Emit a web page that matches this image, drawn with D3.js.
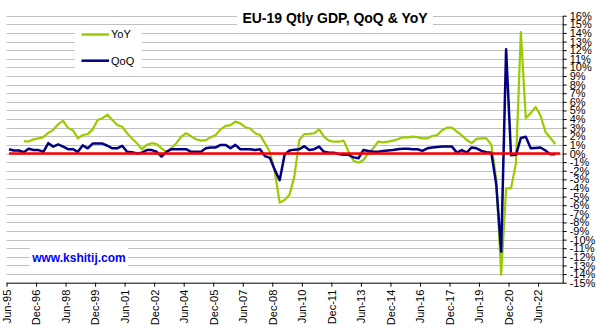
<!DOCTYPE html>
<html><head><meta charset="utf-8">
<script src="https://cdn.jsdelivr.net/npm/d3@7"></script>
<style>
html,body{margin:0;padding:0;background:#fff;}
svg{display:block;font-family:"Liberation Sans",Arial,sans-serif;}
</style></head>
<body><svg id="c" width="603" height="333"></svg>
<script>
// Quarter index 0 = Jun-95; categories run Jun-95 .. Jun-23
const nCategories = 113;
const tickIndex = [0,6,12,18,24,30,36,42,48,54,60,66,72,78,84,90,96,102,108];
const tickLabels = ["Jun-95","Dec-96","Jun-98","Dec-99","Jun-01","Dec-02","Jun-04","Dec-05","Jun-07","Dec-08",
  "Jun-10","Dec-11","Jun-13","Dec-14","Jun-16","Dec-17","Jun-19","Dec-20","Jun-22"];
const yTicks = d3.range(-15, 17);

// YoY starts at quarter index 3 (Mar-96)
const yoyStart = 3;
const yoy = [1.4,1.4,1.65,1.75,1.9,2.4,2.75,3.4,3.8,2.95,2.7,1.75,2.15,2.25,2.8,3.9,4.1,4.5,3.9,3.3,3.1,2.35,1.75,1.2,0.5,1.0,1.2,1.1,0.6,0.2,0.6,1.2,1.95,2.35,2.0,1.65,1.5,
  1.55,1.9,2.15,2.8,3.2,3.3,3.7,3.5,3.05,2.9,2.35,2.15,1.2,0.2,-2.1,-5.7,-5.4,-4.8,-2.6,1.6,2.25,2.27,2.35,2.8,1.95,1.5,1.37,1.37,1.5,0.2,-0.85,-1.07,-0.75,0.0,0.6,1.37,1.3,1.37,1.5,1.65,
  1.88,1.88,1.95,1.9,1.76,1.76,2.03,2.15,2.7,3.0,3.0,2.54,2.1,1.57,1.2,1.7,1.76,1.76,1.0,-3.0,-14.1,-4.05,-4.05,-1.15,14.1,4.1,4.7,5.4,4.4,2.5,1.8,1.1];
// QoQ starts at quarter index 0 (Jun-95)
const qoqStart = 0;
const qoq = [0.5,0.35,0.35,0.15,0.55,0.4,0.4,0.2,1.2,0.8,1.05,0.8,0.5,0.5,0.2,0.95,0.6,1.15,1.15,1.15,0.9,0.6,0.6,0.9,0.2,0.15,0.0,0.1,0.4,0.4,0.2,-0.35,0.2,0.5,0.5,0.5,0.5,0.2,0.2,0.2,
  0.6,0.7,0.7,1.0,1.0,0.6,1.0,0.5,0.5,0.5,0.4,0.5,-0.3,-0.5,-1.9,-3.1,-0.15,0.35,0.45,0.5,0.85,0.4,0.5,0.8,0.2,0.1,0.1,-0.05,-0.15,-0.15,-0.45,-0.55,0.4,0.3,0.2,0.2,0.3,0.35,0.4,0.5,
  0.55,0.55,0.5,0.5,0.3,0.6,0.7,0.75,0.8,0.8,0.8,0.1,0.4,0.1,0.7,0.6,0.3,0.15,0.1,-3.6,-11.4,12.1,-0.2,-0.15,1.8,1.95,0.6,0.65,0.7,0.35,-0.1,-0.1];
const zeroRange = [0, 112];

const svg = d3.select("#c");
const L = 6.5, R = 562.7, T = 15.7, B = 282.7;
const x = d3.scaleLinear().domain([0, nCategories]).range([L, R]);
const y = d3.scaleLinear().domain([-15, 16]).range([B, T]);
const cx = i => x(i + 0.5);

// gridlines
svg.append("g").selectAll("line").data(yTicks.filter(d => d > -15)).join("line")
  .attr("x1", L).attr("x2", R).attr("y1", d => Math.round(y(d)) + 0.5).attr("y2", d => Math.round(y(d)) + 0.5)
  .attr("stroke", "#c0c0c0").attr("stroke-width", 1);

// title box
svg.append("rect").attr("x", 237).attr("y", 8).attr("width", 196).attr("height", 21).attr("fill", "#fff");
svg.append("text").attr("x", 335).attr("y", 18.5).attr("dy", "0.35em").attr("text-anchor", "middle")
  .attr("font-size", 14).attr("font-weight", "bold").attr("fill", "#000").text("EU-19 Qtly GDP, QoQ & YoY");

// legend
svg.append("rect").attr("x", 75).attr("y", 28).attr("width", 67).attr("height", 44).attr("fill", "#fff");
const leg = [{name:"YoY", color:"#99cc00", w:2.5, yy:34.5},{name:"QoQ", color:"#000080", w:2.5, yy:60.7}];
leg.forEach(d => {
  svg.append("line").attr("x1", 81.5).attr("x2", 109).attr("y1", d.yy).attr("y2", d.yy).attr("stroke", d.color).attr("stroke-width", d.w);
  svg.append("text").attr("x", 111).attr("y", d.yy).attr("dy", "0.35em").attr("font-size", 11).attr("fill", "#000").text(d.name);
});

// watermark
svg.append("rect").attr("x", 30).attr("y", 247).attr("width", 98).attr("height", 21).attr("fill", "#fff");
svg.append("text").attr("x", 79).attr("y", 257.5).attr("dy", "0.35em").attr("text-anchor", "middle")
  .attr("font-size", 12).attr("font-weight", "bold").attr("fill", "#0000ff").text("www.kshitij.com");

// series
const line = d3.line().x(d => cx(d[0])).y(d => y(d[1]));
svg.append("path").datum(yoy.map((v, i) => [yoyStart + i, v])).attr("d", line)
  .attr("fill", "none").attr("stroke", "#99cc00").attr("stroke-width", 2.2).attr("stroke-linejoin", "round");
svg.append("path").datum(qoq.map((v, i) => [qoqStart + i, v])).attr("d", line)
  .attr("fill", "none").attr("stroke", "#000080").attr("stroke-width", 2.5).attr("stroke-linejoin", "round");
svg.append("line").attr("x1", cx(zeroRange[0])).attr("x2", cx(zeroRange[1])).attr("y1", y(0)).attr("y2", y(0))
  .attr("stroke", "#ff0000").attr("stroke-width", 2.5);

// right axis
const ya = svg.append("g").attr("transform", `translate(${R},0)`)
  .call(d3.axisRight(y).tickValues(yTicks).tickFormat(d => d + "%").tickSize(4).tickSizeOuter(0).tickPadding(3));
ya.selectAll("text").attr("font-size", 11).attr("font-family", "Liberation Sans, Arial, sans-serif").attr("fill", "#000");
ya.selectAll("line,path").attr("stroke", "#000");

// bottom axis
const xa = svg.append("g").attr("transform", `translate(0,${B})`)
  .call(d3.axisBottom(x).tickValues(tickIndex).tickFormat((d, i) => tickLabels[i]).tickSize(4).tickSizeOuter(0));
xa.selectAll("line,path").attr("stroke", "#000");
xa.selectAll("text").attr("font-size", 11).attr("font-family", "Liberation Sans, Arial, sans-serif").attr("fill", "#000")
  .attr("transform", "rotate(-90)").attr("x", -7).attr("y", 0).attr("dy", "0.35em").style("text-anchor", "end");
</script></body></html>
